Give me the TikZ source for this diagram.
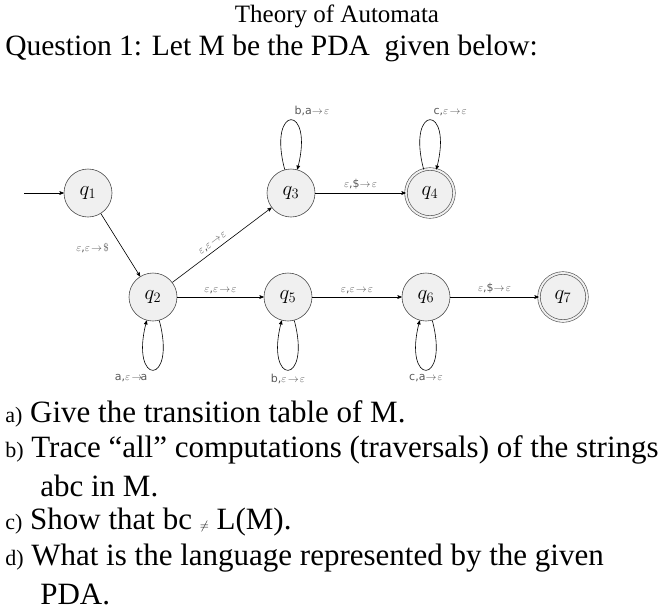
\documentclass[tikz,border=0pt]{standalone}
\usepackage{fontspec}
\setmainfont{Liberation Serif}
\setsansfont{DejaVu Sans}
\usetikzlibrary{arrows.meta,arrows}
\usetikzlibrary{positioning}
\newcommand{\itemtag}[1]{{\fontsize{22}{22}\selectfont #1}}
\begin{document}
\begin{tikzpicture}[>=stealth',x=1pt,y=-1pt,semithick]
 \tikzset{
 	state node/.style={circle,draw=black!70,fill=black!6,minimum size=48pt,inner sep=0,font=\fontsize{21}{21}\selectfont},
 	accept node/.style={state node,double=black!6,double distance=2pt},
 	lbl/.style={font=\sffamily\fontsize{11}{11}\selectfont,text=black!65},
 	self loop/.style={looseness=14,min distance=28pt},
 	txt/.style={anchor=west,inner sep=0,font=\fontsize{31}{31}\selectfont}
 }
 \useasboundingbox (0,0) rectangle (664,608);

       \node[font=\fontsize{25}{25}\selectfont] (title) at (337,16) {Theory of Automata};
       \node[txt,font=\fontsize{29.5}{29.5}\selectfont] (q) at (5,48) {Question 1: Let M be the PDA\ \ given below:};

       \node[state node] (1) at (88,193) {$q_1$};
       \node[state node] (2) at (153,297) {$q_2$};
       \node[state node] (3) at (291,193) {$q_3$};
       \node[accept node] (4) at (430,193) {$q_4$};
       \node[state node] (5) at (288,297) {$q_5$};
       \node[state node] (6) at (426,297) {$q_6$};
       \node[accept node] (7) at (563,297) {$q_7$};
       \coordinate (s) at (24,193);

     \path[->]  (s) edge (1);
     \path[->]  (1) edge node[lbl,left=10pt,pos=0.55] {$\varepsilon$,$\varepsilon\!\to\!\$$} (2);
     \path[->]  (2) edge node[lbl,sloped,above,pos=0.45] {$\varepsilon$,$\varepsilon\!\to\!\varepsilon$} (3);
     \path[->]  (2) edge node[lbl,above] {$\varepsilon$,$\varepsilon\!\to\!\varepsilon$} (5);
     \path[->]  (3) edge node[lbl,above] {$\varepsilon$,\$$\to\!\varepsilon$} (4);
     \path[->]  (5) edge node[lbl,above] {$\varepsilon$,$\varepsilon\!\to\!\varepsilon$} (6);
     \path[->]  (6) edge node[lbl,above] {$\varepsilon$,\$$\to\!\varepsilon$} (7);

     \path[->]  (3) edge[loop above,self loop] node[lbl,above right] {b,a$\to\!\varepsilon$} (3);
     \path[->]  (4) edge[loop above,self loop] node[lbl,above right] {c,$\varepsilon\!\to\!\varepsilon$} (4);
     \path[->]  (2) edge[loop below,self loop] node[lbl,below left=0pt and 2pt] {a,$\varepsilon\!\to\!$a} (2);
     \path[->]  (5) edge[loop below,self loop] node[lbl,below] {b,$\varepsilon\!\to\!\varepsilon$} (5);
     \path[->]  (6) edge[loop below,self loop] node[lbl,below] {c,a$\to\!\varepsilon$} (6);

       \node[txt] (a) at (5,414) {\itemtag{a)} Give the transition table of M.};
       \node[txt] (b) at (5,450) {\itemtag{b)} Trace \textquotedblleft all\textquotedblright\ computations (traversals) of the strings};
       \node[txt] (b2) at (40,486) {abc in M.};
       \node[txt] (c) at (5,522) {\itemtag{c)} Show that bc {\fontsize{12}{12}\selectfont$\neq$} L(M).};
       \node[txt] (d) at (5,558) {\itemtag{d)} What is the language represented by the given};
       \node[txt] (d2) at (40,594) {PDA.};
 \end{tikzpicture}
\end{document}
